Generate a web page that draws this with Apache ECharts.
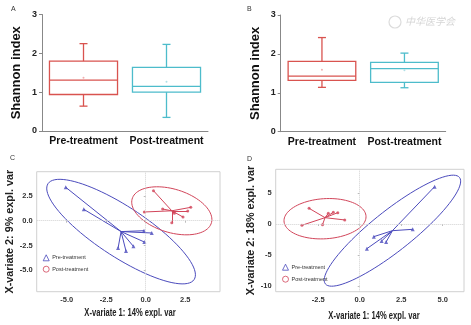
<!DOCTYPE html>
<html><head><meta charset="utf-8">
<script src="https://cdn.jsdelivr.net/npm/echarts@6/dist/echarts.min.js"></script>
<style>html,body{margin:0;padding:0;background:#fff}#c{width:471px;height:325px}</style>
</head><body><div id="c"></div>
<script>
// ---- data: panels A and B (Shannon index box plots) ----
const categories = ['Pre-treatment', 'Post-treatment'];
const shannonTicks = [0, 1, 2, 3];
const aMin = [0.64, 0.35], aQ1 = [0.94, 1.00], aMedian = [1.31, 1.15], aQ3 = [1.80, 1.64], aMax = [2.25, 2.23], aMean = [1.37, 1.27];
const bMin = [1.14, 1.13], bQ1 = [1.32, 1.27], bMedian = [1.43, 1.62], bQ3 = [1.81, 1.78], bMax = [2.42, 2.02], bMean = [1.59, 1.58];

// ---- data: panel C (PLS-DA sample plot) ----
const cPre = [[-5.06, 3.37], [-3.92, 1.15], [-0.11, -1.01], [0.38, -1.24], [-0.09, -2.15], [-0.78, -2.59], [-1.25, -3.06], [-1.75, -2.76]];
const cPost = [[0.49, 3.03], [-0.09, 0.88], [1.07, 1.18], [2.85, 1.35], [2.66, 0.98], [2.36, 0.37], [1.65, -0.20], [1.81, 0.75]];
const cPreCentroid = [-1.56, -1.10], cPostCentroid = [1.65, 1.00];
const cPreEllipseA = [4.62, -4.85], cPreEllipseB = [0.89, 2.09];
const cPostEllipseA = [2.53, -0.71], cPostEllipseB = [-0.19, 2.32];
const cXTicks = [-5, -2.5, 0, 2.5], cYTicks = [-5, -2.5, 0, 2.5];

// ---- data: panel D ----
const dPre = [[4.51, 6.02], [3.19, -0.86], [0.85, -2.04], [0.43, -3.98], [1.32, -2.74], [1.59, -2.90]];
const dPost = [[-3.05, 2.53], [-3.48, -0.21], [-2.24, -0.11], [-1.59, 1.88], [-1.32, 1.83], [-0.90, 0.65], [-1.89, 1.73]];
const dPreCentroid = [1.97, -1.08], dPostCentroid = [-2.09, 1.02];
const dPreEllipseA = [4.04, 8.58], dPreEllipseB = [0.75, -2.56];
const dPostEllipseA = [2.47, 0.32], dPostEllipseB = [0.0, 3.24];
const dPostEllipseCenter = [-2.09, 0.85];
const dXTicks = [-2.5, 0, 2.5, 5], dYTicks = [-10, -5, 0, 5];

const xTitle = 'X-variate 1: 14% expl. var';
const cYTitle = 'X-variate 2: 9% expl. var';
const dYTitle = 'X-variate 2: 18% expl. var';

const boxColors = ['#d9534f', '#4dbccb'];
const meanColors = ['#f0b0b0', '#b0e0e6'];
const blue = '#4b4bbd', red = '#d2455a';
const narrow = '"Liberation Sans Narrow", "Arial Narrow", "Liberation Sans", sans-serif';
const sans = '"Liberation Sans", Arial, sans-serif';

const chart = echarts.init(document.getElementById('c'), null, {renderer: 'canvas'});

function boxData(mins, q1, med, q3, maxs, means) {
  return categories.map((c, i) => [i, mins[i], q1[i], med[i], q3[i], maxs[i], means[i]]);
}
function renderBox(params, api) {
  const i = api.value(0);
  const lo = api.coord([i, api.value(1)]), q1 = api.coord([i, api.value(2)]);
  const md = api.coord([i, api.value(3)]), q3 = api.coord([i, api.value(4)]);
  const hi = api.coord([i, api.value(5)]), mn = api.coord([i, api.value(6)]);
  const bw = api.size([1, 0])[0] * 0.82, h = bw / 2, cap = 4, x = lo[0];
  const st = {stroke: boxColors[i], lineWidth: 1.3, fill: null};
  return {type: 'group', children: [
    {type: 'rect', shape: {x: x - h, y: q3[1], width: bw, height: q1[1] - q3[1]}, style: st},
    {type: 'line', shape: {x1: x - h, y1: md[1], x2: x + h, y2: md[1]}, style: st},
    {type: 'line', shape: {x1: x, y1: q3[1], x2: x, y2: hi[1]}, style: st},
    {type: 'line', shape: {x1: x, y1: q1[1], x2: x, y2: lo[1]}, style: st},
    {type: 'line', shape: {x1: x - cap, y1: hi[1], x2: x + cap, y2: hi[1]}, style: st},
    {type: 'line', shape: {x1: x - cap, y1: lo[1], x2: x + cap, y2: lo[1]}, style: st},
    {type: 'circle', shape: {cx: x, cy: mn[1], r: 1}, style: {fill: meanColors[i]}}
  ]};
}
function ellipseSeries(name, xi, center, A, B, color) {
  return {
    type: 'custom', name: name, xAxisIndex: xi, yAxisIndex: xi, silent: true, clip: false,
    data: [[center[0], center[1]]],
    renderItem: function (params, api) {
      const pts = [];
      for (let k = 0; k < 90; k++) {
        const t = k / 90 * Math.PI * 2;
        pts.push(api.coord([center[0] + A[0] * Math.cos(t) + B[0] * Math.sin(t),
                            center[1] + A[1] * Math.cos(t) + B[1] * Math.sin(t)]));
      }
      return {type: 'polygon', shape: {points: pts}, style: {fill: null, stroke: color, lineWidth: 1}};
    }
  };
}
function starSeries(name, xi, centroid, pts, color) {
  return {
    type: 'lines', name: name, coordinateSystem: 'cartesian2d', xAxisIndex: xi, yAxisIndex: xi,
    silent: true, symbol: 'none', lineStyle: {color: color, width: 1, opacity: 1},
    data: pts.map(p => ({coords: [centroid, p]}))
  };
}
function scatterSeries(name, xi, pts, color, symbol, size, withZero) {
  const s = {type: 'scatter', name: name, xAxisIndex: xi, yAxisIndex: xi, symbol: symbol, symbolSize: size,
    itemStyle: {color: color}, data: pts, silent: true};
  if (withZero) {
    s.markLine = {silent: true, symbol: 'none', label: {show: false},
      lineStyle: {type: 'dotted', color: '#d0d0d0', width: 1}, data: [{xAxis: 0}, {yAxis: 0}]};
  }
  return s;
}
const fmt1 = v => v.toFixed(1);

function catX(gi) {
  return {type: 'category', gridIndex: gi, data: categories,
    axisLine: {lineStyle: {color: '#888', width: 1}},
    axisTick: {alignWithLabel: true, length: 2, lineStyle: {color: '#888'}},
    axisLabel: {interval: 0, fontSize: 10.5, fontWeight: 'bold', color: '#111', margin: 5, fontFamily: sans}};
}
function shY(gi) {
  return {type: 'value', gridIndex: gi, min: 0, max: 3, interval: 1,
    name: 'Shannon index', nameLocation: 'middle', nameGap: 19,
    nameTextStyle: {fontSize: 13, fontWeight: 'bold', color: '#111', fontFamily: sans},
    axisLine: {show: true, lineStyle: {color: '#888'}},
    axisTick: {show: true, length: 3, lineStyle: {color: '#888'}},
    axisLabel: {fontSize: 9, fontWeight: 'bold', color: '#222', margin: 5, fontFamily: sans,
      customValues: shannonTicks},
    splitLine: {show: false}};
}
function valX(gi, min, max, ticks, f) {
  return {type: 'value', gridIndex: gi, min: min, max: max,
    axisLine: {show: false}, splitLine: {show: false},
    axisTick: {show: true, length: 2, lineStyle: {color: '#bbb'}, customValues: ticks},
    axisLabel: {fontSize: 7.5, fontWeight: 'bold', color: '#333', margin: 4, fontFamily: narrow,
      customValues: ticks, formatter: f}};
}
function valY(gi, min, max, ticks, f, name, gap) {
  return {type: 'value', gridIndex: gi, min: min, max: max,
    name: name, nameLocation: 'middle', nameGap: gap,
    nameTextStyle: {fontSize: 10.8, fontWeight: 'bold', color: '#222', fontFamily: sans},
    axisLine: {show: false}, splitLine: {show: false},
    axisTick: {show: true, length: 2, lineStyle: {color: '#bbb'}, customValues: ticks},
    axisLabel: {fontSize: 7.5, fontWeight: 'bold', color: '#333', margin: 4, fontFamily: narrow,
      customValues: ticks, formatter: f}};
}
function legendAt(left, top, gap) {
  return {left: left, top: top, orient: 'vertical', itemWidth: 6, itemHeight: 6, itemGap: gap,
    selectedMode: false, padding: 0,
    textStyle: {fontSize: 5.5, color: '#333', fontFamily: narrow, padding: [0, 0, 0, -2]},
    data: [
      {name: 'Pre-treatment', icon: 'triangle', itemStyle: {color: 'transparent', borderColor: blue, borderWidth: 1}},
      {name: 'Post-treatment', icon: 'circle', itemStyle: {color: 'transparent', borderColor: red, borderWidth: 1}}
    ]};
}
function narrowTitle(cx, cy, text) {
  return {type: 'text', x: cx, y: cy, scaleX: 0.76, silent: true,
    style: {text: text, fontSize: 10, fontWeight: 'bold', fill: '#222', fontFamily: sans,
      align: 'center', verticalAlign: 'middle'}};
}

const option = {
  animation: false,
  backgroundColor: '#fff',
  textStyle: {fontFamily: sans},
  grid: [
    {left: 42, top: 14.5, width: 166, height: 116.5},
    {left: 280.7, top: 15, width: 165, height: 116.7},
    {left: 36.7, top: 171.7, width: 183.3, height: 120, show: true, borderColor: '#d0d0d0', borderWidth: 1, backgroundColor: 'transparent'},
    {left: 275.7, top: 169.3, width: 188.3, height: 122.4, show: true, borderColor: '#d0d0d0', borderWidth: 1, backgroundColor: 'transparent'}
  ],
  xAxis: [catX(0), catX(1),
    valX(2, -6.9, 4.7, cXTicks, fmt1),
    valX(3, -5.06, 6.28, dXTicks, fmt1)],
  yAxis: [shY(0), shY(1),
    valY(2, -7.17, 4.95, cYTicks, fmt1, cYTitle, 18),
    valY(3, -10.92, 8.82, dYTicks, v => String(v), dYTitle, 15)],
  legend: [legendAt(42.7, 254.3, 4.4), legendAt(282, 263.7, 5)],
  graphic: [
    {type: 'text', left: 11, top: 6, style: {text: 'A', fontSize: 7, fill: '#333', fontFamily: sans}},
    {type: 'text', left: 247, top: 6, style: {text: 'B', fontSize: 7, fill: '#333', fontFamily: sans}},
    {type: 'text', left: 10, top: 155, style: {text: 'C', fontSize: 7, fill: '#333', fontFamily: sans}},
    {type: 'text', left: 247, top: 156, style: {text: 'D', fontSize: 7, fill: '#333', fontFamily: sans}},
    narrowTitle(130, 313, xTitle),
    narrowTitle(374, 316.5, xTitle),
    {type: 'circle', shape: {cx: 395, cy: 22, r: 6}, style: {fill: null, stroke: '#dcdcdc', lineWidth: 1.2}},
    {type: 'text', left: 405, top: 16, style: {text: '中华医学会', fontSize: 10, fill: '#d6d6d6', fontStyle: 'italic', fontFamily: '"Noto Sans CJK SC", sans-serif'}}
  ],
  series: [
    {type: 'custom', name: 'boxA', xAxisIndex: 0, yAxisIndex: 0, silent: true,
      data: boxData(aMin, aQ1, aMedian, aQ3, aMax, aMean), encode: {x: 0, y: [1, 2, 3, 4, 5]}, renderItem: renderBox},
    {type: 'custom', name: 'boxB', xAxisIndex: 1, yAxisIndex: 1, silent: true,
      data: boxData(bMin, bQ1, bMedian, bQ3, bMax, bMean), encode: {x: 0, y: [1, 2, 3, 4, 5]}, renderItem: renderBox},
    ellipseSeries('ellC1', 2, cPreCentroid, cPreEllipseA, cPreEllipseB, blue),
    ellipseSeries('ellC2', 2, cPostCentroid, cPostEllipseA, cPostEllipseB, red),
    starSeries('starC1', 2, cPreCentroid, cPre, blue),
    starSeries('starC2', 2, cPostCentroid, cPost, red),
    scatterSeries('Pre-treatment', 2, cPre, blue, 'triangle', 4, true),
    scatterSeries('Post-treatment', 2, cPost, red, 'circle', 3, false),
    ellipseSeries('ellD1', 3, dPreCentroid, dPreEllipseA, dPreEllipseB, blue),
    ellipseSeries('ellD2', 3, dPostEllipseCenter, dPostEllipseA, dPostEllipseB, red),
    starSeries('starD1', 3, dPreCentroid, dPre, blue),
    starSeries('starD2', 3, dPostCentroid, dPost, red),
    scatterSeries('Pre-treatment', 3, dPre, blue, 'triangle', 4, true),
    scatterSeries('Post-treatment', 3, dPost, red, 'circle', 3, false)
  ]
};
chart.setOption(option);
</script>
</body></html>
